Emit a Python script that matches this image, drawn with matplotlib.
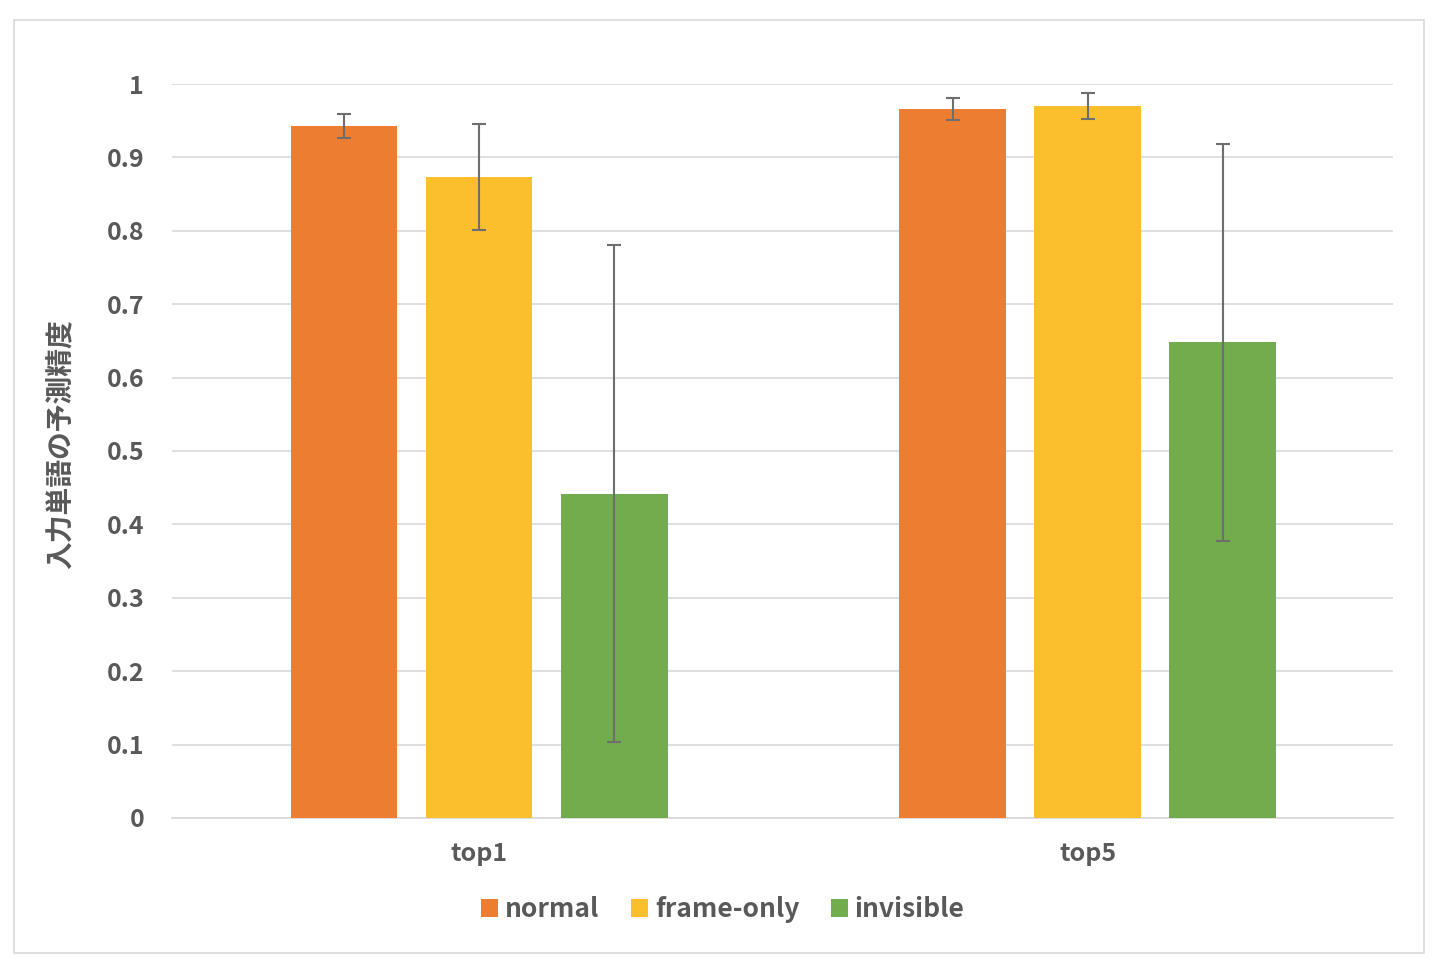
import matplotlib.pyplot as plt
import matplotlib.patches as mpatches
import numpy as np

plt.rcParams['font.family'] = ['Noto Sans CJK JP', 'DejaVu Sans']

categories = ['top1', 'top5']
series = ['normal', 'frame-only', 'invisible']
normal = [0.943, 0.966]
frame_only = [0.873, 0.970]
invisible = [0.442, 0.648]
normal_err = [0.016, 0.015]
frame_only_err = [0.072, 0.018]
invisible_err = [0.338, 0.270]

colors = ['#ED7D31', '#FBBF2D', '#72AC4D']
text_color = '#595959'

fig = plt.figure(figsize=(14.4, 9.68), dpi=100)
ax = fig.add_axes([0.1194, 0.155, 0.848, 0.7582])

x = np.arange(len(categories))
width = 0.175
step = 0.222
values = [normal, frame_only, invisible]
errs = [normal_err, frame_only_err, invisible_err]
for i, (name, vals, err) in enumerate(zip(series, values, errs)):
    ax.bar(x + (i - 1) * step, vals, width, color=colors[i], label=name,
           yerr=err, error_kw=dict(ecolor='#6E6E6E', elinewidth=1.5,
                                   capsize=5, capthick=1.5), zorder=3)

ax.set_xlim(-0.505, 1.502)
ax.set_ylim(0, 1)
ax.set_yticks(np.arange(0, 1.01, 0.1))
ax.set_yticklabels(['0', '0.1', '0.2', '0.3', '0.4', '0.5', '0.6', '0.7',
                    '0.8', '0.9', '1'])
ax.set_xticks(x)
ax.set_xticklabels(categories)
ax.grid(axis='y', color='#D9D9D9', linewidth=1.2, zorder=0)
for s in ['top', 'right', 'left']:
    ax.spines[s].set_visible(False)
ax.spines['bottom'].set_color('#D9D9D9')
ax.spines['bottom'].set_linewidth(1.2)
ax.tick_params(axis='both', length=0, labelsize=18, labelcolor=text_color)
ax.tick_params(axis='y', pad=20)
ax.tick_params(axis='x', pad=17)
for lab in ax.get_xticklabels() + ax.get_yticklabels():
    lab.set_fontweight('bold')

ax.set_ylabel('入力単語の予測精度', fontsize=20, color=text_color,
              fontweight='bold')
ax.yaxis.set_label_coords(-0.08, 0.51)

fig.legend(loc='center', bbox_to_anchor=(0.502, 0.06), ncol=3,
           frameon=False, handlelength=0.65, handleheight=0.65,
           handletextpad=0.25, columnspacing=1.2,
           prop={'size': 19, 'weight': 'bold'}, labelcolor=text_color)

border = mpatches.Rectangle((14 / 1440, 1 - 953 / 968), 1410 / 1440,
                            933 / 968, transform=fig.transFigure,
                            fill=False, edgecolor='#D9D9D9', linewidth=1.2)
fig.patches.append(border)

fig.savefig('out.png', dpi=100)
